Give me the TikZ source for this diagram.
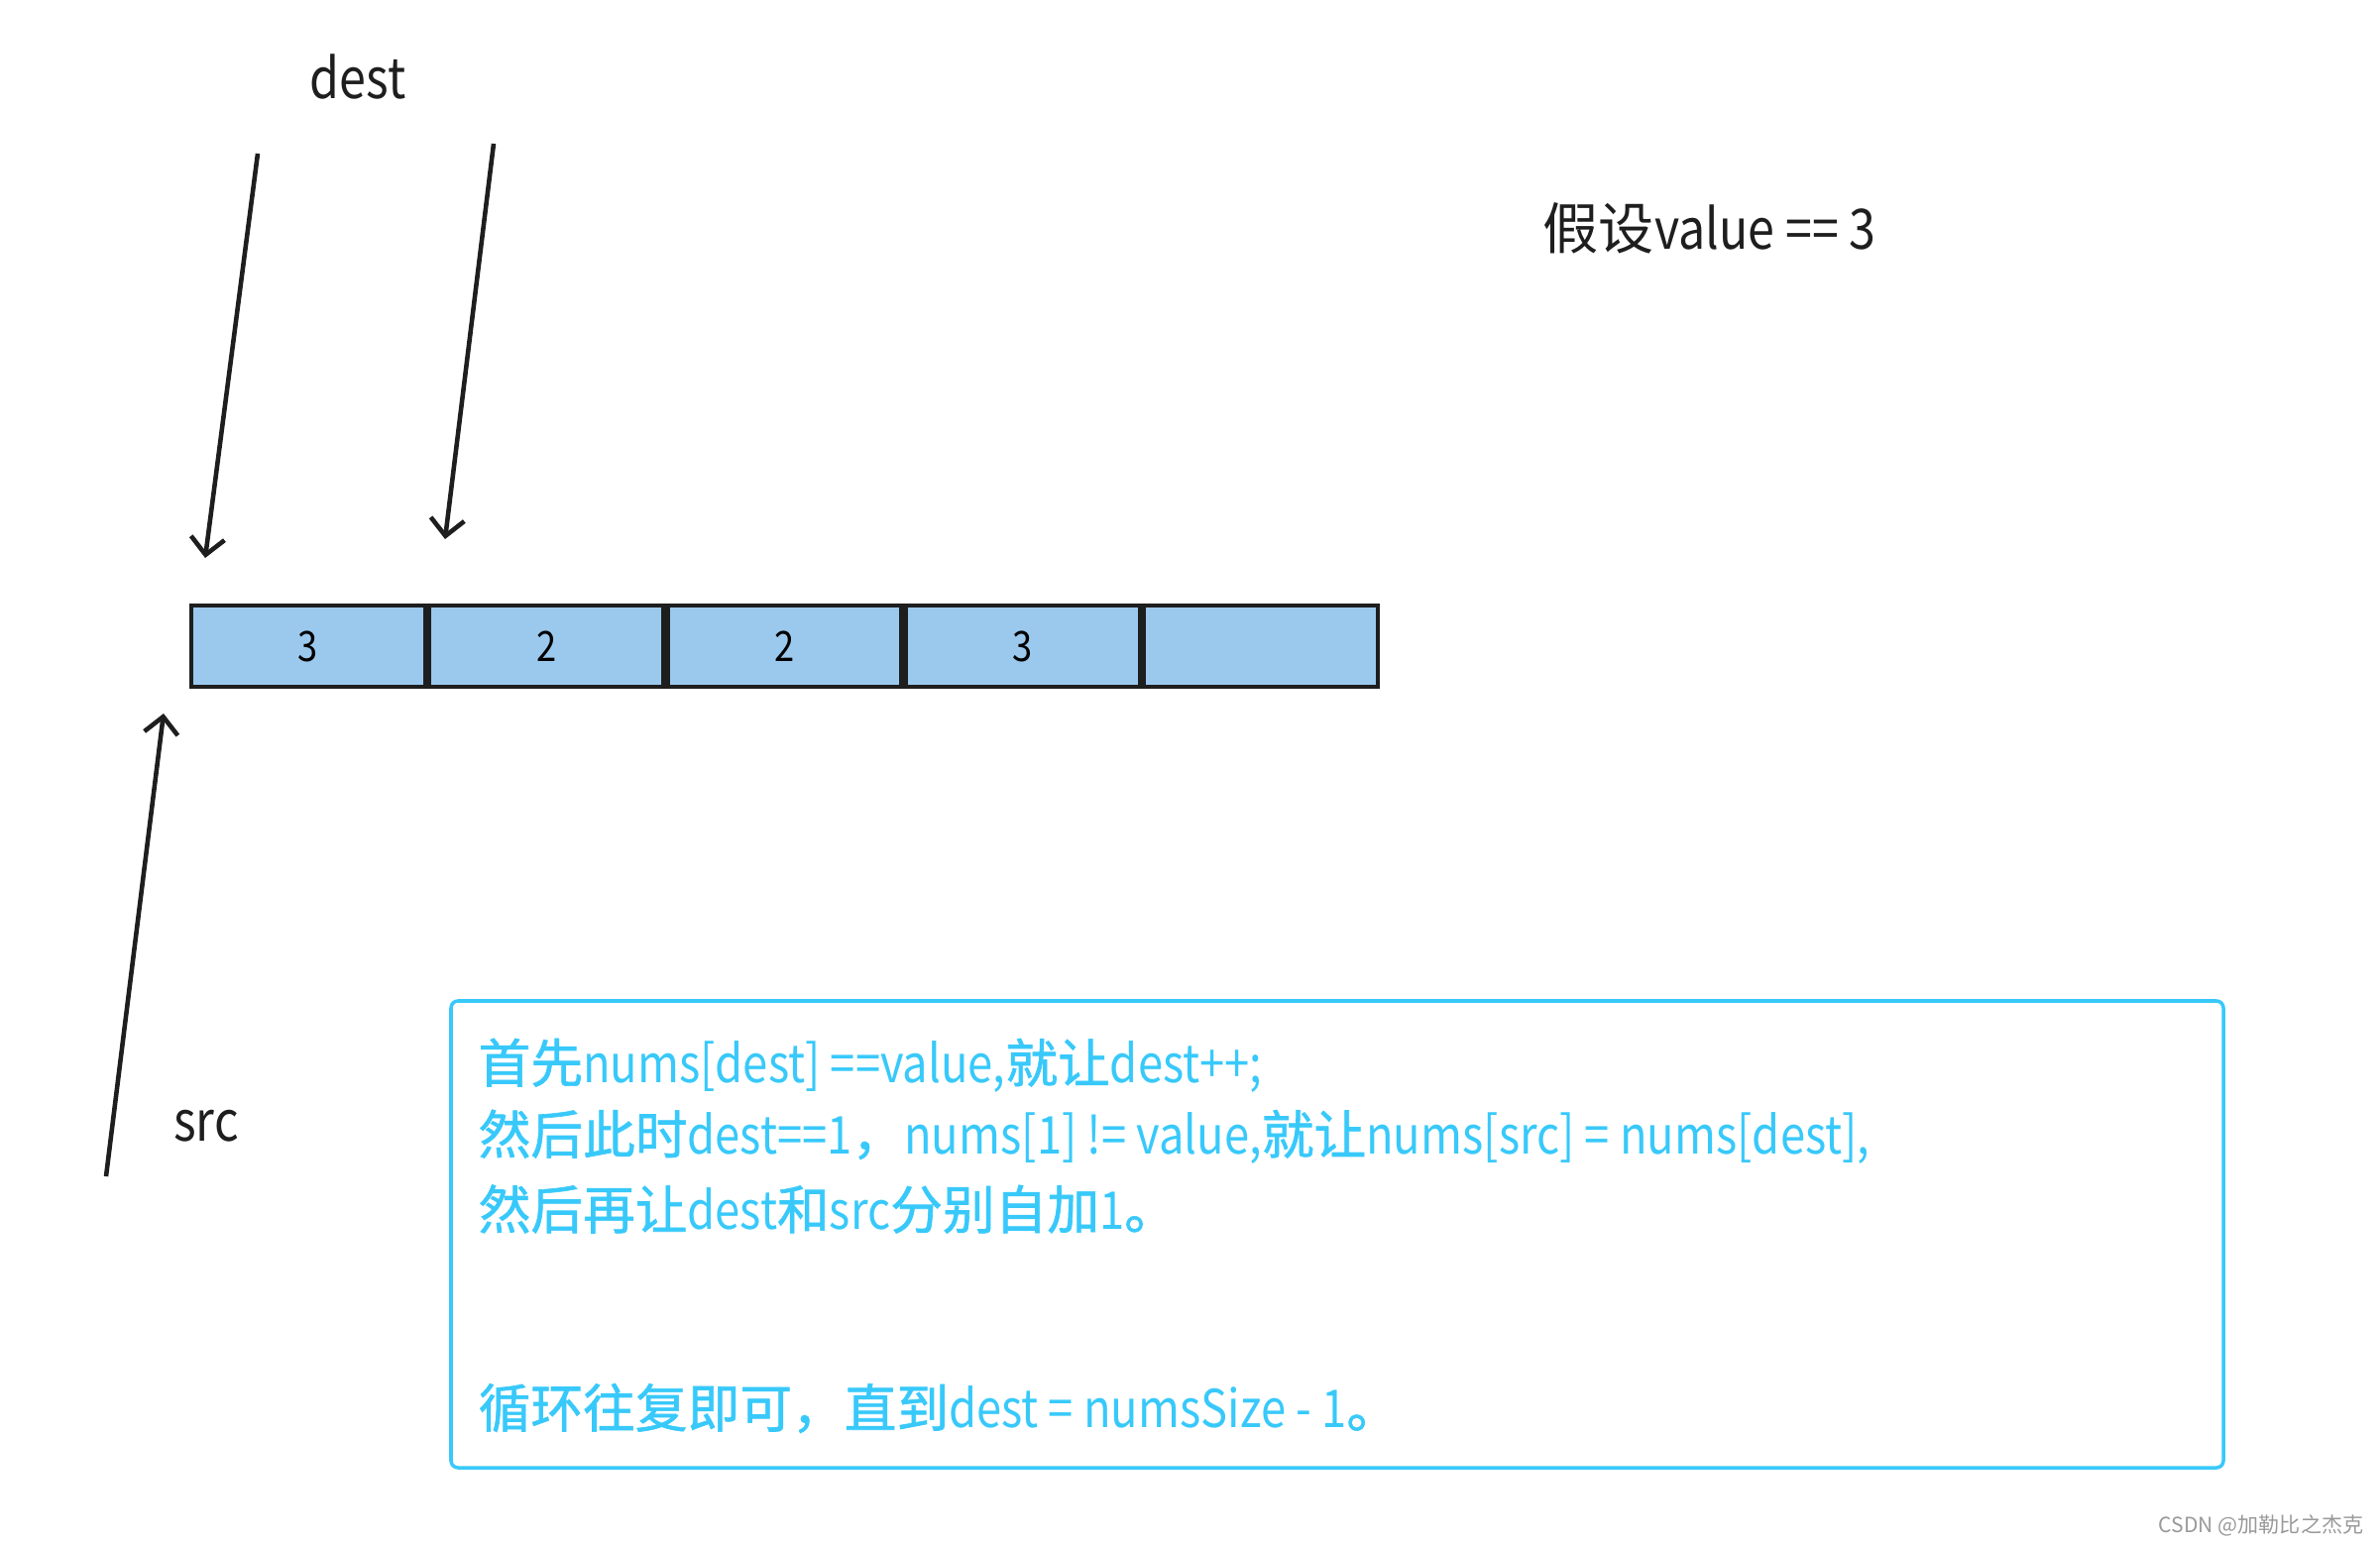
\documentclass[tikz,border=0pt]{standalone}
\usepackage{fontspec}
\setmainfont[FakeStretch=0.86]{Noto Sans CJK SC}
\newfontfamily\zhfont{Noto Sans CJK SC}
\newfontfamily\zhbold[FakeBold=1.2]{Noto Sans CJK SC}
\usetikzlibrary{arrows.meta,positioning}
\definecolor{cellblue}{RGB}{155,201,238}
\definecolor{noteblue}{RGB}{56,201,250}
\definecolor{ink}{RGB}{30,30,30}
\newcommand{\zh}[1]{{\zhbold #1}}

\begin{document}
\begin{tikzpicture}[
    cell/.style={draw=ink, line width=1.2pt, fill=cellblue, minimum width=2.36cm, minimum height=0.82cm, inner sep=0pt, font=\fontsize{12}{14}\selectfont},
    pointer/.style={ink, line width=1.3pt, -{Straight Barb[length=1.7mm, width=3.4mm]}},
    note/.style={noteblue, anchor=west, inner sep=0pt, font=\fontsize{15}{17}\selectfont},
    hand/.style={ink, font=\fontsize{16}{18}\selectfont}
]
    \useasboundingbox (0,0) rectangle (24.01,-15.59);

    % array cells
    \node[cell] (c1) at (3.11,-6.52) {3};
    \node[cell, right=0pt of c1] (c2) {2};
    \node[cell, right=0pt of c2] (c3) {2};
    \node[cell, right=0pt of c3] (c4) {3};
    \node[cell, right=0pt of c4] (c5) {};

    % dest pointers
    \node[hand] (destlbl) at (3.61,-0.77) {dest};
    \coordinate (d1top) at (2.60,-1.55);
    \coordinate (d1tip) at (2.07,-5.63);
    \coordinate (d2top) at (4.98,-1.45);
    \coordinate (d2tip) at (4.49,-5.44);
    \draw[pointer] (d1top) -- (d1tip);
    \draw[pointer] (d2top) -- (d2tip);

    % src pointer
    \coordinate (sfoot) at (1.07,-11.87);
    \coordinate (stip) at (1.65,-7.20);
    \draw[pointer] (sfoot) -- (stip);
    \node[hand] (srclbl) at (2.08,-11.36) {src};

    \node[hand, anchor=west, inner sep=0pt] (given) at (15.56,-2.30) {{\zhfont 假设}value == 3};

    % explanation
    \draw[noteblue, line width=1pt, rounded corners=2pt] (4.55,-10.10) rectangle (22.43,-14.81);
    \node[note] (l1) at (4.82,-10.75) {\zh{首先}nums[dest] ==value,\zh{就让}dest++;};
    \node[note] (l2) at (4.82,-11.47) {\zh{然后此时}dest==1\zh{，}nums[1] != value,\zh{就让}nums[src] = nums[dest],};
    \node[note] (l3) at (4.82,-12.20) {\zh{然后再让}dest\zh{和}src\zh{分别自加}1\zh{。}};
    \node[note] (l4) at (4.82,-14.21) {\zh{循环往复即可，直到}dest = numsSize - 1\zh{。}};

    \node[anchor=east, text=gray!80, inner sep=0pt, font=\zhfont\fontsize{6}{7}\selectfont] (mark) at (23.85,-15.39) {CSDN @加勒比之杰克};
\end{tikzpicture}
\end{document}
